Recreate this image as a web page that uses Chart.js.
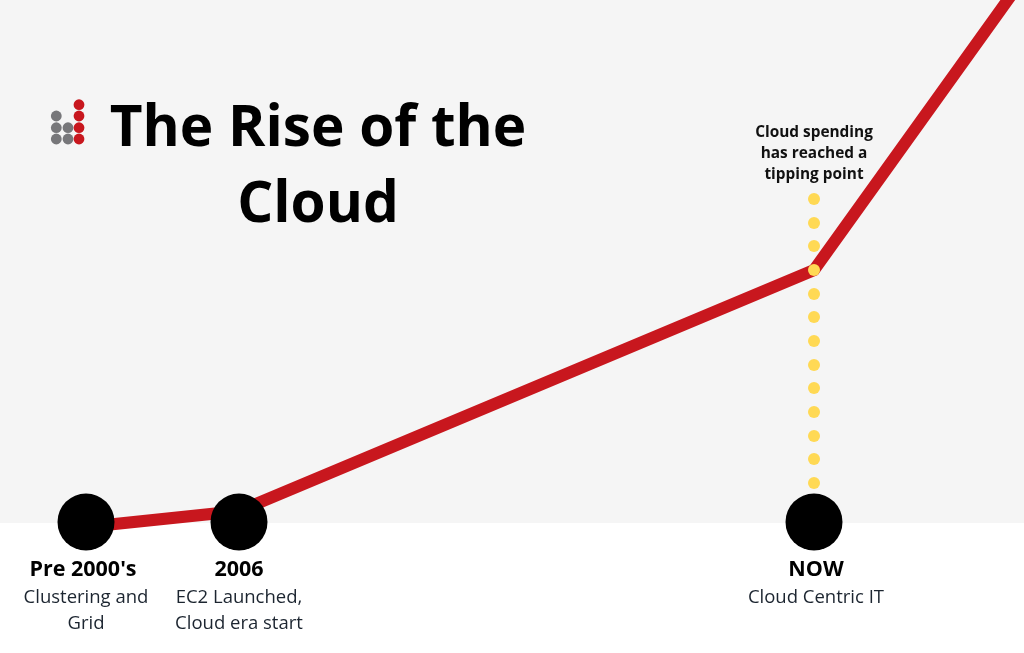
<!DOCTYPE html>
<html>
<head>
<meta charset="utf-8">
<title>The Rise of the Cloud</title>
<script src="https://cdn.jsdelivr.net/npm/chart.js@4"></script>
<style>
    html, body { margin: 0; padding: 0; background: #fff; }
    body { width: 1024px; height: 653px; position: relative; overflow: hidden; font-family: "Open Sans", sans-serif; color: #000; }
    #cloudChart { position: absolute; left: 0; top: 0; }
    .title { position: absolute; left: 88px; top: 86px; width: 460px; margin: 0; text-align: center; font-size: 56.7px; line-height: 76px; font-weight: 700; }
    .logo { position: absolute; left: 50px; top: 99px; }
    .milestone { position: absolute; top: 555px; width: 180px; text-align: center; color: #1c2530; font-size: 18.5px; line-height: 26px; }
    .milestone.narrow { width: 140px; }
    .milestone b { display: block; color: #000; font-size: 21.5px; line-height: 26px; margin-bottom: 2px; }
    .milestone.narrow b { margin-left: -6px; margin-right: 0; white-space: nowrap; }
    .note { position: absolute; top: 121px; width: 180px; text-align: center; font-size: 15.4px; line-height: 21px; font-weight: 700; color: #111; }
</style>
</head>
<body>
<canvas id="cloudChart" width="1024" height="653"></canvas>
<h1 class="title">The Rise of the Cloud</h1>
<svg class="logo" width="36" height="48" viewBox="0 0 36 48">
    <g fill="#77777a">
        <circle cx="6.3" cy="17" r="5.4"/><circle cx="6.3" cy="28.7" r="5.4"/><circle cx="6.3" cy="40" r="5.4"/>
        <circle cx="18" cy="28.7" r="5.4"/><circle cx="18" cy="40" r="5.4"/>
    </g>
    <g fill="#c8171e">
        <circle cx="29" cy="5.7" r="5.4"/><circle cx="29" cy="17" r="5.4"/><circle cx="29" cy="28.7" r="5.4"/><circle cx="29" cy="40" r="5.4"/>
    </g>
</svg>
<div id="labels"></div>

<script>
// milestones along the bottom
const milestones = ["Pre 2000's", '2006', 'NOW'];
const milestoneText = ['Clustering and Grid', 'EC2 Launched,<br>Cloud era start', 'Cloud Centric IT'];
const milestoneX = [86, 239, 814];
const milestoneY = [131, 131, 131];

// red growth line
const growthX = [86, 239, 814, 1030];
const growthY = [126, 142, 383, 684];

// yellow dotted marker above NOW
const tippingX = [814, 814, 814, 814, 814, 814, 814, 814, 814, 814, 814, 814, 814];
const tippingY = [454, 430, 407, 383, 359, 336, 312, 288, 265, 241, 217, 194, 170];
const tippingNote = 'Cloud spending<br>has reached a<br>tipping point';

const baseline = 130;

const toPoints = (xs, ys) => xs.map((x, i) => ({ x: x, y: ys[i] }));

// grey band behind everything above the baseline
const bandPlugin = {
    id: 'band',
    beforeDraw(chart) {
        const { ctx, chartArea, scales } = chart;
        ctx.save();
        ctx.fillStyle = '#f5f5f5';
        ctx.fillRect(chartArea.left, chartArea.top, chartArea.width, scales.y.getPixelForValue(baseline) - chartArea.top);
        ctx.restore();
    }
};

const cloudChart = new Chart(document.getElementById('cloudChart'), {
    type: 'scatter',
    data: {
        datasets: [
            {
                label: 'Milestones',
                data: toPoints(milestoneX, milestoneY),
                backgroundColor: '#000',
                borderWidth: 0,
                pointRadius: 28.5,
                order: 1
            },
            {
                label: 'Tipping point',
                data: toPoints(tippingX, tippingY),
                backgroundColor: '#ffd954',
                borderWidth: 0,
                pointRadius: 6,
                order: 2
            },
            {
                label: 'Cloud spending',
                data: toPoints(growthX, growthY),
                showLine: true,
                borderColor: '#c8171e',
                borderWidth: 12,
                borderJoinStyle: 'miter',
                tension: 0,
                pointRadius: 0,
                order: 3
            }
        ]
    },
    options: {
        responsive: false,
        animation: false,
        layout: { autoPadding: false, padding: 0 },
        plugins: { legend: { display: false }, tooltip: { enabled: false } },
        scales: {
            x: { type: 'linear', min: 0, max: 1024, display: false },
            y: { type: 'linear', min: 0, max: 653, display: false }
        }
    },
    plugins: [bandPlugin]
});

// text sits on top as html, placed from the chart's own scale
const labels = document.getElementById('labels');
milestones.forEach((name, i) => {
    const div = document.createElement('div');
    div.className = i === 0 ? 'milestone narrow' : 'milestone';
    const half = i === 0 ? 70 : 90;
    const nudge = i === 2 ? 2 : 0; // NOW sits a little right of its circle
    div.style.left = (cloudChart.scales.x.getPixelForValue(milestoneX[i]) - half + nudge) + 'px';
    div.innerHTML = '<b>' + name + '</b>' + milestoneText[i];
    labels.appendChild(div);
});

const note = document.createElement('div');
note.className = 'note';
note.style.left = (cloudChart.scales.x.getPixelForValue(tippingX[0]) - 90) + 'px';
note.innerHTML = tippingNote;
labels.appendChild(note);
</script>
</body>
</html>
